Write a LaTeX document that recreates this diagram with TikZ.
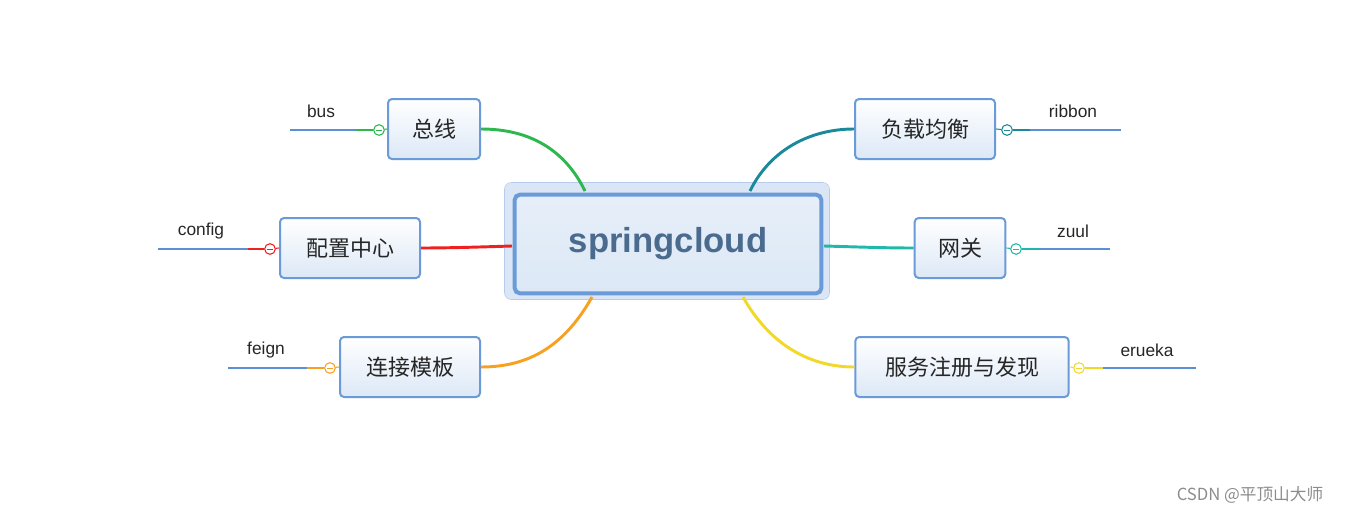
\documentclass[tikz,border=0pt]{standalone}
\usepackage{fontspec}
\setmainfont{Liberation Sans}
\newfontfamily\cjk{Noto Sans CJK SC}
\begin{document}
\begin{tikzpicture}[x=0.75pt,y=-0.75pt,
  topic/.style={draw=boxblue,line width=1.5pt,rounded corners=3pt,top color=white,bottom color=boxfill,minimum height=45pt,inner sep=0pt,font=\cjk\fontsize{16.5}{18}\selectfont,text=black!85},
  lab/.style={font=\fontsize{13}{14}\selectfont,text=black!85},
  leaf/.style={line width=2.2pt,draw=leafblue},
  knob/.style={circle,draw=#1,fill=white,line width=0.8pt,minimum size=8pt,inner sep=0pt,path picture={\draw[#1,line width=0.6pt]([xshift=-2pt]path picture bounding box.center)--([xshift=2pt]path picture bounding box.center);}},
  br/.style={line width=2.2pt,draw=#1}]
\definecolor{boxblue}{HTML}{6A9AD8}
\definecolor{boxfill}{HTML}{DCE8F6}
\definecolor{leafblue}{HTML}{5B8FD6}
\definecolor{cgreen}{HTML}{2DB84D}
\definecolor{cred}{HTML}{F02020}
\definecolor{corange}{HTML}{F8A020}
\definecolor{cteal}{HTML}{1A8A9A}
\definecolor{cteal2}{HTML}{20B8A8}
\definecolor{cyellow}{HTML}{F2D828}
\definecolor{ctext}{HTML}{4A6B8E}
\useasboundingbox (0,0) rectangle (1349,514);
% central
\node[draw=boxblue!50,fill=boxblue!25,rounded corners=5pt,minimum width=243.75pt,minimum height=87.75pt] (glow) at (667,241) {};
\node[draw=boxblue,line width=3pt,rounded corners=4pt,top color=boxfill!70,bottom color=boxfill,minimum width=230pt,minimum height=74pt] (c) at (668,244) {};
\node[font=\bfseries\fontsize{26}{30}\selectfont,text=ctext] (ct) at (668,244) {springcloud};
% topics
\node[topic,minimum width=69pt] (t1) at (434,129) {总线};
\node[topic,minimum width=105pt] (t2) at (350,248) {配置中心};
\node[topic,minimum width=105pt] (t3) at (410,367) {连接模板};
\node[topic,minimum width=105pt] (t4) at (925,129) {负载均衡};
\node[topic,minimum width=68pt] (t5) at (960,248) {网关};
\node[topic,minimum width=160pt] (t6) at (962,367) {服务注册与发现};
% branches
\coordinate (b1) at (585,191); \coordinate (b2) at (512,246); \coordinate (b3) at (592,297);
\coordinate (b4) at (750,191); \coordinate (b5) at (824,246); \coordinate (b6) at (743,297);
\draw[br=cgreen] (b1) .. controls (565,150) and (530,129) .. (t1.east);
\draw[br=cred] (b2) .. controls (480,247) and (450,248) .. (t2.east);
\draw[br=corange] (b3) .. controls (565,345) and (530,367) .. (t3.east);
\draw[br=cteal] (b4) .. controls (770,150) and (810,129) .. (t4.west);
\draw[br=cteal2] (b5) .. controls (860,247) and (885,248) .. (t5.west);
\draw[br=cyellow] (b6) .. controls (770,345) and (810,367) .. (t6.west);
% leaves
\node[knob=cgreen] (k1) at (379,130) {};
\node[knob=cred] (k2) at (270,249) {};
\node[knob=corange] (k3) at (330,368) {};
\node[knob=cteal] (k4) at (1007,130) {};
\node[knob=cteal2] (k5) at (1016,249) {};
\node[knob=cyellow] (k6) at (1079,368) {};
\draw[cgreen,line width=0.8pt] (t1.west)--(k1);
\draw[cred,line width=0.8pt] (t2.west)--(k2);
\draw[corange,line width=0.8pt] (t3.west)--(k3);
\draw[cteal,line width=0.8pt] (t4.east)--(k4);
\draw[cteal2,line width=0.8pt] (t5.east)--(k5);
\draw[cyellow,line width=0.8pt] (t6.east)--(k6);
\coordinate (l1a) at (290,130); \coordinate (l1b) at (356,130);
\coordinate (l2a) at (158,249); \coordinate (l2b) at (248,249);
\coordinate (l3a) at (228,368); \coordinate (l3b) at (307,368);
\coordinate (l4a) at (1030,130); \coordinate (l4b) at (1121,130);
\coordinate (l5a) at (1040,249); \coordinate (l5b) at (1110,249);
\coordinate (l6a) at (1103,368); \coordinate (l6b) at (1196,368);
\draw[cgreen,line width=0.8pt] (k1)--(l1b); \draw[cred,line width=0.8pt] (k2)--(l2b); \draw[corange,line width=0.8pt] (k3)--(l3b);
\draw[cteal,line width=0.8pt] (k4)--(l4a); \draw[cteal2,line width=0.8pt] (k5)--(l5a); \draw[cyellow,line width=0.8pt] (k6)--(l6a);
\draw[leaf] (l1a)--(l1b); \draw[leaf] (l2a)--(l2b); \draw[leaf] (l3a)--(l3b);
\draw[leaf] (l4a)--(l4b); \draw[leaf] (l5a)--(l5b); \draw[leaf] (l6a)--(l6b);
\node[lab] (n1) at (321,111) {bus};
\node[lab] (n2) at (201,231) {config};
\node[lab] (n3) at (266,350) {feign};
\node[lab] (n4) at (1073,111) {ribbon};
\node[lab] (n5) at (1073,231) {zuul};
\node[lab] (n6) at (1147,350) {erueka};
\node[font=\cjk\fontsize{12.5}{14}\selectfont,text=black!45] (wm) at (1250,495) {CSDN @平顶山大师};
\end{tikzpicture}
\end{document}
